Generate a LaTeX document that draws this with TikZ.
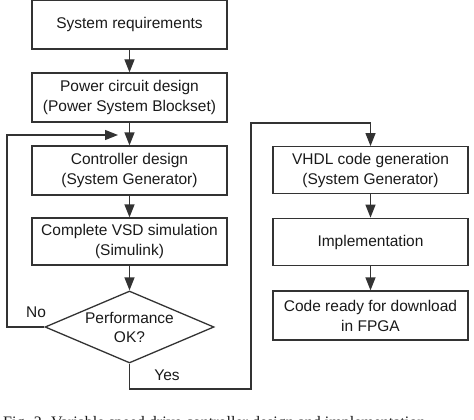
\documentclass[tikz,border=0pt]{standalone}
\usepackage{fontspec}
\setmainfont{Liberation Sans}
\newfontfamily\capfont{Liberation Serif}
\usetikzlibrary{shapes.geometric,arrows.meta}
\definecolor{ln}{HTML}{333333}
\definecolor{tx}{HTML}{1A1A1A}
\begin{document}
\begin{tikzpicture}[x=1pt,y=-1pt,
  box/.style={draw=ln, line width=1.3pt, rectangle, minimum width=195pt, align=center, inner sep=0pt, text=tx, font=\fontsize{15.5}{20}\selectfont},
  dec/.style={draw=ln, line width=1.3pt, diamond, aspect=2.35, minimum width=169pt, minimum height=72pt, inner sep=0pt, align=center, text=tx, font=\fontsize{15.5}{19}\selectfont},
  conn/.style={draw=ln, line width=1.3pt},
  arr/.style={conn, -{Triangle[length=13pt,width=10pt]}},
  lbl/.style={text=tx, font=\fontsize{15.5}{19}\selectfont, inner sep=0pt}]
\path[use as bounding box, fill=white] (0,0) rectangle (474,420);
\begin{scope}
\clip (0,0) rectangle (474,420);
\node[box, minimum height=48.5pt] (req) at (129.5,24.75) {System requirements};
\node[box, minimum height=49pt] (pow) at (129.5,97.5) {Power circuit design\\(Power System Blockset)};
\node[box, minimum height=49pt] (ctrl) at (129.5,170.5) {Controller design\\(System Generator)};
\node[box, minimum height=47pt] (sim) at (129.5,241.5) {Complete VSD simulation\\(Simulink)};
\node[dec] (perf) at (129.5,327) {Performance\\OK?};
\node[box, minimum height=46.6pt] (vhdl) at (370.5,170) {VHDL code generation\\(System Generator)};
\node[box, minimum height=47.4pt] (impl) at (370.5,242) {Implementation};
\node[box, minimum height=49pt] (code) at (370.5,315.5) {Code ready for download\\in FPGA};

\draw[arr] (req) -- (pow);
\draw[arr] (pow) -- (ctrl);
\draw[arr] (ctrl) -- (sim);
\draw[arr] (sim) -- (perf);

\coordinate (nL) at (7,327);
\coordinate (nT) at (7,135);
\coordinate (fb) at (118,135);
\draw[arr] (perf.west) -- (nL) -- (nT) -- (fb);

\coordinate (y1) at (129.5,389);
\coordinate (y2) at (251,389);
\coordinate (y3) at (251,123);
\coordinate (y4) at (370.5,123);
\draw[arr] (perf.south) -- (y1) -- (y2) -- (y3) -- (y4) -- (vhdl.north);

\draw[arr] (vhdl) -- (impl);
\draw[arr] (impl) -- (code);

\node[lbl] (no) at (36,312) {No};
\node[lbl] (yes) at (167,375) {Yes};

\node[anchor=base west, inner sep=0pt, text=tx, font=\capfont\fontsize{16}{19}\selectfont] (cap) at (3,427) {Fig. 2. Variable speed drive controller design and implementation};
\end{scope}
\end{tikzpicture}
\end{document}
